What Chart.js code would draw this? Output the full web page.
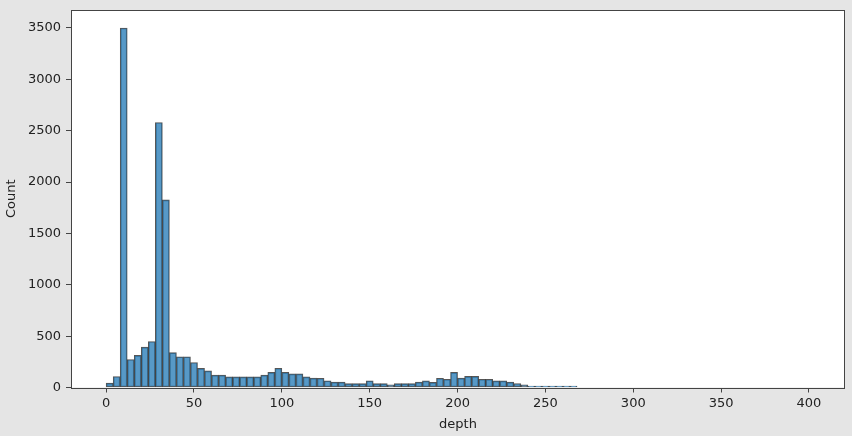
<!DOCTYPE html>
<html>
<head>
<meta charset="utf-8">
<script src="https://cdn.jsdelivr.net/npm/chart.js@4.4.0/dist/chart.umd.min.js"></script>
<style>
    html, body { margin: 0; padding: 0; background: #e5e5e5; }
    #wrap { width: 852px; height: 436px; position: relative; }
</style>
</head>
<body>
<div id="wrap"><canvas id="depthHist"></canvas></div>
<script>
// Histogram of depth: 100 bins of width 4 starting at 0
const binStart = 0;
const binWidth = 4;
const counts = [
    42, 107, 3500, 273, 312, 393, 448, 2580, 1827, 340,
    299, 299, 243, 186, 162, 120, 120, 104, 104, 104,
    104, 104, 120, 148, 187, 148, 132, 132, 104, 92,
    90, 66, 53, 52, 38, 38, 38, 66, 38, 38,
    25, 38, 38, 38, 52, 64, 50, 90, 80, 148,
    92, 108, 108, 80, 80, 65, 65, 52, 39, 26,
    13, 13, 13, 13, 13, 13, 13, 0, 0, 0,
    0, 0, 0, 0, 0, 0, 0, 0, 0, 0,
    0, 0, 0, 0, 0, 0, 0, 0, 0, 0,
    0, 0, 0, 0, 0, 0, 0, 0, 0, 0
];
const xTicks = [0, 50, 100, 150, 200, 250, 300, 350, 400];
const yTicks = [0, 500, 1000, 1500, 2000, 2500, 3000, 3500];
const xRange = [-20, 420.5];
const yRange = [0, 3675];

Chart.defaults.font.family = "'DejaVu Sans', sans-serif";
Chart.defaults.font.size = 13;
Chart.defaults.color = '#222';

// white axes face and the four spines
const axesBox = {
    id: 'axesBox',
    beforeDraw(chart) {
        const { ctx, chartArea: a } = chart;
        ctx.save();
        ctx.fillStyle = '#ffffff';
        ctx.fillRect(a.left, a.top, a.right - a.left, a.bottom - a.top);
        ctx.restore();
    },
    afterDraw(chart) {
        const { ctx, chartArea: a } = chart;
        ctx.save();
        ctx.strokeStyle = '#444';
        ctx.lineWidth = 1;
        ctx.strokeRect(Math.round(a.left) + 0.5, Math.round(a.top) + 0.5,
            Math.round(a.right - a.left) - 1, Math.round(a.bottom - a.top));
        ctx.restore();
    }
};

const ctx = document.getElementById('depthHist').getContext('2d');
new Chart(ctx, {
    type: 'bar',
    data: {
        datasets: [{
            label: 'Count',
            data: counts.map((c, i) => ({ x: binStart + binWidth * (i + 0.5), y: c })),
            backgroundColor: 'rgba(31, 119, 180, 0.75)',
            borderColor: 'rgba(30, 30, 30, 0.75)',
            borderWidth: 1,
            borderSkipped: false,
            barPercentage: 1,
            categoryPercentage: 1
        }]
    },
    options: {
        responsive: true,
        maintainAspectRatio: false,
        animation: false,
        devicePixelRatio: 1,
        layout: { padding: { top: 10, right: 7, bottom: 0, left: 0 } },
        plugins: {
            legend: { display: false },
            tooltip: { enabled: false }
        },
        scales: {
            x: {
                type: 'linear',
                min: xRange[0],
                max: xRange[1],
                offset: false,
                afterBuildTicks: scale => { scale.ticks = xTicks.map(v => ({ value: v })); },
                afterFit: scale => {
                    scale.height = 48.5;
                    scale.paddingLeft = 0;
                    scale.paddingRight = 0;
                },
                grid: { offset: false, drawOnChartArea: false, drawTicks: true, tickLength: 5, color: '#444' },
                border: { display: false },
                ticks: { padding: 3, maxRotation: 0, color: '#222', callback: v => String(v) },
                title: { display: true, text: 'depth', color: '#222', padding: 4 }
            },
            y: {
                min: yRange[0],
                max: yRange[1],
                afterBuildTicks: scale => { scale.ticks = yTicks.map(v => ({ value: v })); },
                afterFit: scale => {
                    scale.width = 71;
                    scale.paddingTop = 0;
                    scale.paddingBottom = 0;
                },
                grid: { offset: false, drawOnChartArea: false, drawTicks: true, tickLength: 5, color: '#444' },
                border: { display: false },
                ticks: { padding: 5, color: '#222', callback: v => String(v) },
                title: { display: true, text: 'Count', color: '#222', padding: 4 }
            }
        }
    },
    plugins: [axesBox]
});
</script>
</body>
</html>
